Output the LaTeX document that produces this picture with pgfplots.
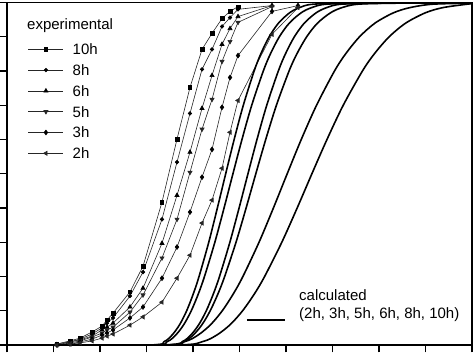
\documentclass[border=0pt]{standalone}
\usepackage{pgfplots}
\pgfplotsset{compat=1.18}
\usepackage{fontspec}
\setmainfont{Liberation Sans}
\begin{document}
\begin{tikzpicture}
\begin{axis}[
  scale only axis, width=465pt, height=342.5pt,
  xmin=0, xmax=10, ymin=0, ymax=1,
  xtick={0,1,2,3,4,5,6,7,8,9,10},
  ytick={0,0.1,0.2,0.3,0.4,0.5,0.6,0.7,0.8,0.9,1},
  xticklabels={}, yticklabels={},
  xtick pos=bottom, ytick pos=left,
  tick align=outside, major tick length=7.5pt,
  every tick/.style={black, line width=1.2pt},
  axis line style={line width=1.5pt},
  legend style={draw=none, fill=none, at={(0.045,0.88)}, anchor=north west,
    font=\fontsize{15}{18}\selectfont, inner sep=0pt, row sep=9.8pt, column sep=9pt,
    nodes={inner sep=0pt, text height=11pt, text depth=0pt}},
  legend cell align=left,
  legend image code/.code={\draw[mark repeat=2,mark phase=2,#1] plot coordinates {(0pt,0pt) (17.5pt,0pt) (35pt,0pt)};},
  exp/.style={black!85, line width=0.6pt, mark options={solid, fill=black, draw=black}},
  calc/.style={black, line width=1.6pt, smooth, tension=0.5, no markers, forget plot},
]
% experimental
\addplot[exp, mark=square*, mark size=1.8pt] coordinates {
(1.075,0.003)(1.355,0.012)(1.570,0.020)(1.828,0.038)(2.043,0.055)(2.151,0.073)(2.280,0.093)
(2.645,0.155)(2.925,0.230)(3.333,0.417)(3.656,0.601)(3.935,0.752)(4.194,0.863)(4.409,0.910)
(4.624,0.953)(4.796,0.974)(4.968,0.988)};
\addlegendentry{10h}
\addplot[exp, mark=*, mark size=1.8pt] coordinates {
(1.075,0.003)(1.355,0.009)(1.570,0.017)(1.828,0.032)(2.043,0.050)(2.151,0.064)(2.280,0.079)
(2.645,0.143)(2.925,0.213)(3.333,0.367)(3.656,0.534)(3.935,0.676)(4.194,0.805)(4.409,0.863)
(4.624,0.930)(4.796,0.956)(4.968,0.980)(5.699,0.991)};
\addlegendentry{8h}
\addplot[exp, mark=triangle*, mark size=2.4pt] coordinates {
(1.075,0.000)(1.355,0.009)(1.570,0.015)(1.828,0.026)(2.043,0.044)(2.151,0.052)(2.280,0.064)
(2.645,0.111)(2.925,0.166)(3.333,0.297)(3.656,0.437)(3.935,0.563)(4.194,0.691)(4.409,0.787)
(4.624,0.878)(4.796,0.924)(4.968,0.959)(5.699,0.991)};
\addlegendentry{6h}
\addplot[exp, mark=triangle*, mark size=2.4pt, mark options={rotate=180}] coordinates {
(1.075,0.000)(1.355,0.006)(1.570,0.012)(1.828,0.023)(2.043,0.035)(2.151,0.044)(2.280,0.052)
(2.645,0.096)(2.925,0.146)(3.333,0.254)(3.656,0.367)(3.935,0.504)(4.194,0.630)(4.409,0.717)
(4.624,0.828)(4.796,0.886)(4.968,0.942)(5.699,0.988)};
\addlegendentry{5h}
\addplot[exp, mark=diamond*, mark size=2.4pt] coordinates {
(1.075,0.000)(1.355,0.003)(1.570,0.009)(1.828,0.017)(2.043,0.029)(2.151,0.035)(2.280,0.044)
(2.645,0.079)(2.925,0.111)(3.333,0.195)(3.656,0.286)(3.935,0.388)(4.194,0.490)(4.409,0.571)
(4.624,0.694)(4.796,0.781)(4.968,0.845)(5.699,0.974)(6.258,0.991)};
\addlegendentry{3h}
\addplot[exp, mark=triangle*, mark size=2.4pt, mark options={rotate=90}] coordinates {
(1.075,0.000)(1.355,0.003)(1.570,0.006)(1.828,0.012)(2.043,0.020)(2.151,0.026)(2.280,0.032)
(2.645,0.058)(2.925,0.082)(3.333,0.125)(3.656,0.195)(3.935,0.262)(4.194,0.356)(4.409,0.423)
(4.624,0.516)(4.796,0.621)(4.968,0.714)(5.699,0.907)(6.258,0.985)};
\addlegendentry{2h}
% calculated
\addplot[calc] coordinates {
(0,0)(3.032,0)(3.380,0.01)(3.556,0.03)(3.715,0.06)(3.864,0.10)(4.008,0.15)(4.130,0.20)
(4.339,0.30)(4.524,0.40)(4.703,0.50)(4.885,0.60)(5.082,0.70)(5.315,0.80)(5.458,0.85)
(5.639,0.90)(5.840,0.94)(6.078,0.97)(6.289,0.985)(6.581,0.995)(7.5,0.998)(10,0.998)};
\addplot[calc] coordinates {
(0,0)(3.075,0)(3.447,0.01)(3.635,0.03)(3.804,0.06)(3.963,0.10)(4.117,0.15)(4.247,0.20)
(4.470,0.30)(4.668,0.40)(4.859,0.50)(5.053,0.60)(5.263,0.70)(5.512,0.80)(5.665,0.85)
(5.857,0.90)(6.072,0.94)(6.326,0.97)(6.551,0.985)(6.864,0.995)(7.8,0.998)(10,0.998)};
\addplot[calc] coordinates {
(0,0)(3.398,0)(3.770,0.01)(3.958,0.03)(4.127,0.06)(4.286,0.10)(4.440,0.15)(4.570,0.20)
(4.793,0.30)(4.991,0.40)(5.182,0.50)(5.376,0.60)(5.586,0.70)(5.835,0.80)(5.988,0.85)
(6.180,0.90)(6.395,0.94)(6.649,0.97)(6.874,0.985)(7.187,0.995)(8.1,0.998)(10,0.998)};
\addplot[calc] coordinates {
(0,0)(3.398,0)(3.805,0.01)(4.011,0.03)(4.197,0.06)(4.370,0.10)(4.539,0.15)(4.681,0.20)
(4.925,0.30)(5.142,0.40)(5.351,0.50)(5.564,0.60)(5.794,0.70)(6.066,0.80)(6.234,0.85)
(6.445,0.90)(6.679,0.94)(6.958,0.97)(7.204,0.985)(7.546,0.995)(8.4,0.998)(10,0.998)};
\addplot[calc] coordinates {
(0,0)(3.247,0)(3.826,0.01)(4.119,0.03)(4.383,0.06)(4.630,0.10)(4.870,0.15)(5.073,0.20)
(5.420,0.30)(5.729,0.40)(6.026,0.50)(6.328,0.60)(6.657,0.70)(7.043,0.80)(7.282,0.85)
(7.582,0.90)(7.916,0.94)(8.313,0.97)(8.663,0.985)(9.150,0.995)(10,0.998)};
\addplot[calc] coordinates {
(0,0)(3.591,0)(4.209,0.01)(4.522,0.03)(4.804,0.06)(5.067,0.10)(5.324,0.15)(5.540,0.20)
(5.910,0.30)(6.240,0.40)(6.557,0.50)(6.881,0.60)(7.231,0.70)(7.644,0.80)(7.899,0.85)
(8.219,0.90)(8.576,0.94)(8.999,0.97)(9.372,0.985)(9.892,0.995)(10,0.996)};
% annotations
\node[anchor=base west, font=\fontsize{15}{18}\selectfont, inner sep=0pt] at (axis cs:0.430,0.920) {experimental};
\node[anchor=base west, font=\fontsize{15}{18}\selectfont, inner sep=0pt] at (axis cs:6.280,0.131) {calculated};
\node[anchor=base west, font=\fontsize{15}{18}\selectfont, inner sep=0pt] at (axis cs:6.280,0.077) {(2h, 3h, 5h, 6h, 8h, 10h)};
\draw[black, line width=1.6pt] (axis cs:5.161,0.073) -- (axis cs:5.978,0.073);
\coordinate (ll) at (rel axis cs:0,0);
\coordinate (ur) at (rel axis cs:1,1);
\end{axis}
\pgfresetboundingbox
\path ([shift={(-7pt,-8pt)}]ll) rectangle ([shift={(2pt,2.5pt)}]ur);
\end{tikzpicture}
\end{document}
